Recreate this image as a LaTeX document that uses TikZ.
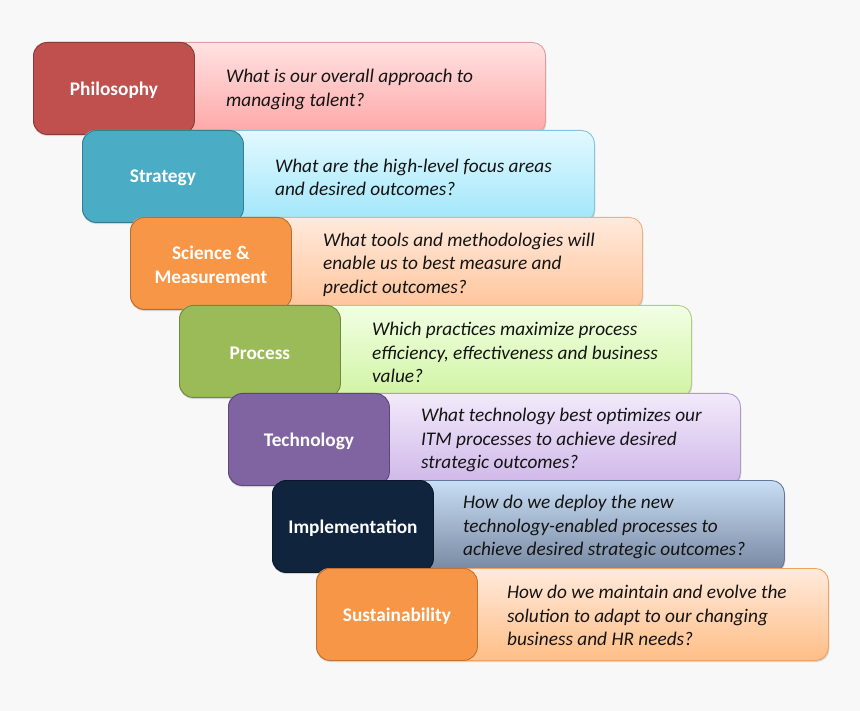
\documentclass[tikz,border=0pt]{standalone}
\usepackage{fontspec}
\setmainfont{Carlito}
\usetikzlibrary{shadows}
\definecolor{bg}{HTML}{F8F8F8}
\definecolor{dA}{HTML}{C0504D}\definecolor{bA}{HTML}{8C3A38}
\definecolor{tA}{HTML}{FFE2E2}\definecolor{uA}{HTML}{FFA6A6}\definecolor{eA}{HTML}{E49C9C}
\definecolor{dB}{HTML}{4BACC6}\definecolor{bB}{HTML}{357D92}
\definecolor{tB}{HTML}{E2F9FF}\definecolor{uB}{HTML}{A0E6FA}\definecolor{eB}{HTML}{80C6DC}
\definecolor{dC}{HTML}{F79646}\definecolor{bC}{HTML}{B66D31}
\definecolor{tC}{HTML}{FFEADC}\definecolor{uC}{HTML}{FFC49A}\definecolor{eC}{HTML}{EFAF80}
\definecolor{dD}{HTML}{9BBB59}\definecolor{bD}{HTML}{71893F}
\definecolor{tD}{HTML}{F2FFE4}\definecolor{uD}{HTML}{D0F4A2}\definecolor{eD}{HTML}{ADCF80}
\definecolor{dE}{HTML}{8064A2}\definecolor{bE}{HTML}{5C4776}
\definecolor{tE}{HTML}{F2EAFB}\definecolor{uE}{HTML}{CFB6E8}\definecolor{eE}{HTML}{AE9CC8}
\definecolor{dF}{HTML}{10243E}\definecolor{bF}{HTML}{0A1828}
\definecolor{tF}{HTML}{C8DEF4}\definecolor{uF}{HTML}{7686A0}\definecolor{eF}{HTML}{667898}
\definecolor{dG}{HTML}{F79646}\definecolor{bG}{HTML}{C07236}
\definecolor{tG}{HTML}{FFEADC}\definecolor{uG}{HTML}{FFBE86}\definecolor{eG}{HTML}{EFA466}
\begin{document}
\begin{tikzpicture}[x=1pt,y=-1pt,
  lightbox/.style={anchor=north west, inner sep=0pt, minimum width=512pt, minimum height=92pt,
    rounded corners=13pt, line width=0.9pt,
    drop shadow={shadow xshift=0.8pt, shadow yshift=-1.6pt, opacity=0.25, fill=black!60}},
  darkbox/.style={anchor=north west, inner sep=0pt, minimum width=161pt, minimum height=92pt,
    rounded corners=14pt, line width=0.9pt},
  dlabel/.style={inner sep=0pt, text=white, align=center,
    font=\fontsize{19.3}{23.5}\selectfont\bfseries},
  qtext/.style={anchor=west, align=left, inner sep=0pt, text=black!92,
    font=\fontsize{19.3}{23.5}\selectfont\itshape}]
\fill[bg] (0,0) rectangle (860,711);
\useasboundingbox (0,0) rectangle (860,711);
\newcommand{\steprow}[7]{%
  \node[lightbox, top color=t#1, bottom color=u#1, draw=e#1] (q#1) at (#2,#3) {};
  \node[darkbox, fill=d#1, draw=b#1] (p#1) at (#2,#3) {};
  \node[dlabel] (l#1) at ([yshift=-1.5pt]p#1.center) {#4};
  \node[qtext] (t#1) at ([xshift=#5pt, yshift=-1pt]p#1.east) {#6};}
\steprow{A}{33}{42}{Philosophy}{31}{What is our overall approach to\\managing talent?}{}
\steprow{B}{82}{130}{Strategy}{31}{What are the high-level focus areas\\and desired outcomes?}{}
\steprow{C}{130}{217}{Science \&\\Measurement}{31}{What tools and methodologies will\\enable us to best measure and\\predict outcomes?}{}
\steprow{D}{179}{305}{Process}{31}{Which practices maximize process\\efficiency, effectiveness and business\\value?}{}
\steprow{E}{228}{393}{Technology}{31}{What technology best optimizes our\\ITM processes to achieve desired\\strategic outcomes?}{}
\steprow{F}{272}{480}{Implementation}{29}{How do we deploy the new\\technology-enabled processes to\\achieve desired strategic outcomes?}{}
\steprow{G}{316}{568}{Sustainability}{29}{How do we maintain and evolve the\\solution to adapt to our changing\\business and HR needs?}{}
\end{tikzpicture}
\end{document}
